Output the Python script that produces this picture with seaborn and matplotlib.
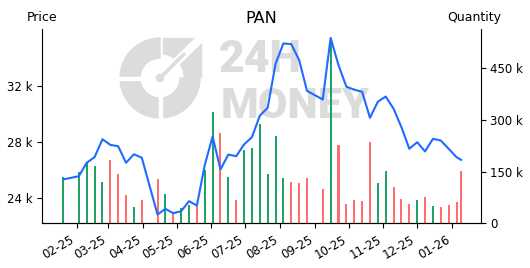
import matplotlib
matplotlib.use("Agg")
import matplotlib.pyplot as plt
import matplotlib.dates as mdates
from matplotlib.ticker import EngFormatter, FixedLocator
from matplotlib.patches import Wedge, Rectangle, Circle
from matplotlib.lines import Line2D
from matplotlib.transforms import IdentityTransform
import seaborn as sns
import pandas as pd

# ---- data (weekly) ----
dates = ["2025-01-20", "2025-02-03", "2025-02-10", "2025-02-17", "2025-02-24",
         "2025-03-03", "2025-03-10", "2025-03-17", "2025-03-24", "2025-03-31",
         "2025-04-14", "2025-04-21", "2025-04-28", "2025-05-05", "2025-05-12",
         "2025-05-19", "2025-05-26", "2025-06-02", "2025-06-09", "2025-06-16",
         "2025-06-23", "2025-06-30", "2025-07-07", "2025-07-14", "2025-07-21",
         "2025-07-28", "2025-08-04", "2025-08-11", "2025-08-18", "2025-08-25",
         "2025-09-08", "2025-09-15", "2025-09-22", "2025-09-29", "2025-10-06",
         "2025-10-13", "2025-10-20", "2025-10-27", "2025-11-03", "2025-11-10",
         "2025-11-17", "2025-11-24", "2025-12-01", "2025-12-08", "2025-12-15",
         "2025-12-22", "2025-12-29", "2026-01-05", "2026-01-09"]
price = [25340, 25570, 26530, 26930, 28210,
         27810, 27710, 26530, 27140, 26890,
         22840, 23240, 22930, 23070, 23790,
         23480, 26360, 28410, 26050, 27120,
         27000, 27840, 28360, 29890, 30460,
         33600, 35050, 35000, 33860, 31660,
         31050, 35450, 33500, 31960, 31750,
         31600, 29740, 30890, 31260, 30390,
         29070, 27530, 28000, 27340, 28240,
         28120, 27530, 26930, 26740]
volume = [133500, 148000, 176000, 165000, 121000,
          183000, 143000, 82000, 46000, 67000,
          130000, 85000, 32000, 43500, 52000,
          50000, 154000, 324000, 261000, 133500,
          67000, 212000, 218000, 287000, 142000,
          252000, 130600, 120000, 116000, 130600,
          100700, 537000, 227000, 55000, 67000,
          64000, 235000, 118000, 151000, 105000,
          70000, 55000, 67000, 75000, 51000,
          46000, 52000, 62000, 151000]
title = "PAN"
left_label = "Price"
right_label = "Quantity"
price_ticks = [24000, 28000, 32000]
volume_ticks = [0, 150000, 300000, 450000]

UP = "#1ea566"
DOWN = "#ff6e6e"
LINE = "#1f6bff"
WM = "#dcdcdc"

df = pd.DataFrame({"date": pd.to_datetime(dates), "price": price, "volume": volume})
df["dir"] = ["up" if i == 0 or df["price"][i] >= df["price"][i - 1] else "down"
             for i in range(len(df))]

W, H = 530, 268
fig = plt.figure(figsize=(W / 100, H / 100), dpi=100)
fig.patch.set_facecolor("white")

# ---- watermark (behind everything) ----
tr = IdentityTransform()
cx, cy = 160, 190
wm_artists = [
    Rectangle((163, 191.5), 38, 38.5, color=WM),
    Wedge((cx, cy), 23, 0, 90, color="white"),
    Wedge((cx, cy), 40, 90, 360, width=20, color=WM),
    Rectangle((117, 188.5), 27, 3, color="white"),
    Rectangle((158.5, 147), 3, 26, color="white"),
]
for a in wm_artists:
    a.set_transform(tr)
    a.set_zorder(-5)
    fig.add_artist(a)
for a in [Line2D([cx, 203], [cy, 232], color="white", lw=6, solid_capstyle="butt"),
          Line2D([cx, 184], [cy, 214], color=WM, lw=2.6, solid_capstyle="round")]:
    a.set_transform(tr)
    a.set_zorder(-4)
    fig.add_artist(a)
dot = Circle((cx, cy), 3.5, color=WM)
dot.set_transform(tr)
dot.set_zorder(-4)
fig.add_artist(dot)
fig.text(219 / W, 196 / H, "24H", ha="left", va="baseline", fontsize=32,
         fontweight=900, family=["Roboto", "DejaVu Sans"], color=WM, zorder=-5)
fig.text(221 / W, 150 / H, "MONEY", ha="left", va="baseline", fontsize=31,
         fontweight=900, family=["Roboto", "DejaVu Sans"], color=WM, zorder=-5)

# ---- axes ----
ax = fig.add_axes([42.3 / W, 1 - 223.3 / H, 438.4 / W, 194.3 / H])
ax2 = ax.twinx()
ax.set_zorder(ax2.get_zorder() + 1)
ax.patch.set_visible(False)
ax2.patch.set_visible(False)

colors = [UP if d == "up" else DOWN for d in df["dir"]]
ax2.bar(df["date"], df["volume"], width=1.8, color=colors, linewidth=0)
sns.lineplot(data=df, x="date", y="price", ax=ax, color=LINE, linewidth=1.5)

ax.set_xlim(pd.Timestamp("2025-01-01 12:00"), pd.Timestamp("2026-01-26 12:00"))
ax2.set_ylim(0, max(volume) * 1.05)
lo, hi = min(price), max(price)
ax.set_ylim(lo - 0.05 * (hi - lo), hi + 0.05 * (hi - lo))

ax.yaxis.set_major_locator(FixedLocator(price_ticks))
ax.yaxis.set_major_formatter(EngFormatter())
ax2.yaxis.set_major_locator(FixedLocator(volume_ticks))
ax2.yaxis.set_major_formatter(EngFormatter())
ax.xaxis.set_major_locator(mdates.MonthLocator())
ax.xaxis.set_major_formatter(mdates.DateFormatter("%m-%y"))
for lab in ax.get_xticklabels():
    lab.set_rotation(30)
    lab.set_ha("right")

ax.set_xlabel("")
ax.set_ylabel("")
ax2.set_ylabel("")
for a in (ax, ax2):
    a.tick_params(labelsize=8.5)
    a.spines["top"].set_visible(False)
ax.spines["right"].set_visible(False)
ax2.spines["left"].set_visible(False)

ax.set_title(title, fontsize=11.5, pad=4.5)
fig.text(42.2 / W, 1 - 20.7 / H, left_label, ha="center", va="baseline", fontsize=9)
fig.text(473.8 / W, 1 - 20.7 / H, right_label, ha="center", va="baseline", fontsize=9)

fig.savefig("out.png", dpi=100, facecolor="white")
